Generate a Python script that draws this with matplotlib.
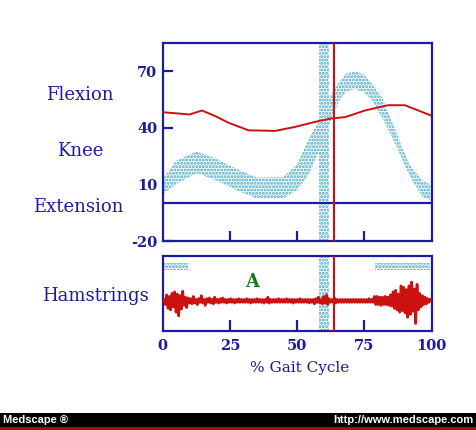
import matplotlib
matplotlib.use("Agg")
import matplotlib.pyplot as plt
import numpy as np
from matplotlib.patches import Rectangle

plt.rcParams['hatch.linewidth'] = 1.4

NAVY = '#1c1c9e'
CYAN = '#3aa6c4'
RED = '#cc1111'

# ---------------- data ----------------
mean_x = [0, 10, 14.6, 19.6, 24.5, 31.9, 41.8, 49.2, 57.9, 62.8, 67.8, 75.2, 83.8, 90, 99.5]
mean_knee = [48.2, 47.0, 49.1, 46.1, 42.6, 38.6, 38.3, 40.4, 43.5, 44.9, 45.6, 49.1, 51.9, 51.9, 46.6]

band_x = [0.5, 5.2, 12.6, 20, 27.4, 35, 44.7, 50, 54.5, 58.2, 61, 63.2, 66, 68.1, 71.5, 75, 78, 81.7, 86.6, 91.6, 96.5, 99.5]
band_upper = [13.8, 22.6, 27.4, 23.5, 18.2, 13.6, 13.8, 20.5, 34.8, 43.5, 52, 59.2, 65, 68.5, 70, 68, 63, 55.7, 38.3, 20.8, 12.1, 10]
band_lower = [5.1, 10.4, 15.9, 12.1, 6.9, 2.5, 2.5, 7.0, 15.5, 28, 38, 47, 55, 59, 60.6, 58.5, 54, 45, 31, 15, 3.5, 1.6]

zero_line = 0
swing_band = [58, 62]
toe_off = 63.5

emg = [
    0.02, -0.05, 0.08, -0.10, 0.06, -0.12, 0.10, -0.08, 0.12, -0.15, 0.09, -0.20, 0.07, -0.11, 0.13, -0.06, 0.05, -0.09, 0.04, -0.03,
    0.03, -0.04, 0.06, -0.03, 0.02, -0.05, 0.03, -0.02, 0.07, -0.03, 0.02, -0.06, 0.03, -0.02, 0.04, -0.03, 0.02, -0.04, 0.05, -0.02,
    0.02, -0.03, 0.03, -0.02, 0.04, -0.02, 0.02, -0.03, 0.02, -0.02, 0.03, -0.02, 0.02, -0.03, 0.02, -0.02, 0.03, -0.02, 0.02, -0.02,
    0.02, -0.02, 0.03, -0.02, 0.02, -0.03, 0.02, -0.02, 0.02, -0.02, 0.03, -0.02, 0.02, -0.02, 0.02, -0.03, 0.02, -0.02, 0.05, -0.03,
    0.02, -0.02, 0.02, -0.02, 0.02, -0.02, 0.03, -0.02, 0.02, -0.02, 0.02, -0.02, 0.03, -0.02, 0.02, -0.02, 0.02, -0.03, 0.02, -0.02,
    0.02, -0.02, 0.03, -0.02, 0.02, -0.02, 0.02, -0.02, 0.02, -0.03, 0.02, -0.02, 0.02, -0.04, 0.03, -0.02, 0.05, -0.03, 0.02, -0.04,
    0.06, -0.03, 0.08, -0.05, 0.03, -0.02, 0.02, -0.02, 0.04, -0.03, 0.02, -0.02, 0.02, -0.02, 0.02, -0.02, 0.02, -0.02, 0.02, -0.02,
    0.02, -0.02, 0.02, -0.02, 0.02, -0.02, 0.02, -0.02, 0.02, -0.02, 0.02, -0.02, 0.02, -0.02, 0.03, -0.02, 0.02, -0.02, 0.06, -0.05,
    0.06, -0.05, 0.05, -0.06, 0.05, -0.05, 0.06, -0.05, 0.05, -0.06, 0.08, -0.07, 0.12, -0.10, 0.14, -0.12, 0.09, -0.15, 0.20, -0.13,
    0.18, -0.16, 0.15, -0.22, 0.20, -0.18, 0.25, -0.14, 0.16, -0.30, 0.22, -0.12, 0.10, -0.08, 0.07, -0.05, 0.05, -0.04, 0.03, -0.02, 0.02,
]
emg_baseline = 0.40
emg_x = np.linspace(0.5, 99.5, len(emg))

activity_bands = [(0.5, 9.5), (79, 99.5)]
activity_y = (0.81, 0.90)

knee_yticks = [70, 40, 10, -20]
gait_xticks = [0, 25, 50, 75, 100]

# ---------------- figure ----------------
W, H = 476, 430
fig = plt.figure(figsize=(W / 100, H / 100), dpi=100)
fig.patch.set_facecolor('white')

def fx(px):
    return px / W

def fy(py):
    return 1 - py / H

ax1 = fig.add_axes([fx(162.7), fy(241), fx(431.7) - fx(162.7), fy(42.7) - fy(241)])
ax2 = fig.add_axes([fx(162.7), fy(331), fx(431.7) - fx(162.7), fy(255.7) - fy(331)])

tickfont = dict(family='DejaVu Serif', size=10.5, weight='bold')
HATCH = '.....'

for ax in (ax1, ax2):
    ax.set_xlim(0, 100)
    for s in ax.spines.values():
        s.set_color(NAVY)
        s.set_linewidth(1.6)
    ax.tick_params(direction='in', color=NAVY, width=1.6, length=7, labelcolor=NAVY)
    ax.axvspan(swing_band[0], swing_band[1], facecolor='white', edgecolor=CYAN,
               hatch=HATCH, linewidth=0, zorder=1)
    ax.axvline(toe_off, color=RED, linewidth=1.5, zorder=4)

# top: knee angle
ax1.set_ylim(-20, 85)
ax1.fill_between(band_x, band_lower, band_upper, facecolor='white', edgecolor=CYAN,
                 hatch=HATCH, linewidth=0, zorder=2)
ax1.plot(mean_x, mean_knee, color=RED, linewidth=1.4, zorder=3)
ax1.axhline(zero_line, color=NAVY, linewidth=1.6, zorder=3)
ax1.set_yticks(knee_yticks)
ax1.set_yticklabels([str(v) for v in knee_yticks], fontdict=tickfont)
ax1.set_xticks([25, 50, 75])
ax1.set_xticklabels([])
ax1.tick_params(axis='y', pad=4)

# bottom: hamstrings EMG
ax2.set_ylim(0, 1)
for a, b in activity_bands:
    ax2.fill_between([a, b], [activity_y[0]] * 2, [activity_y[1]] * 2, facecolor='white',
                     edgecolor=CYAN, hatch=HATCH, linewidth=0, zorder=2)
ax2.plot(emg_x, emg_baseline + np.array(emg), color=RED, linewidth=1.9, zorder=3)
ax2.set_yticks([])
ax2.set_xticks(gait_xticks)
ax2.set_xticklabels([str(v) for v in gait_xticks], fontdict=tickfont)
ax2.tick_params(axis='x', length=8, pad=6)
for t in ax2.xaxis.get_major_ticks():
    if t.get_loc() in (0, 100):
        t.tick1line.set_visible(False)
ax2.text(33.4, 0.65, 'A', color='#1a7a1a', fontsize=13, fontweight='bold',
         family='DejaVu Serif', ha='center', va='center')

# labels
lab = dict(family='DejaVu Serif', size=13, color=NAVY, ha='center', va='center')
fig.text(fx(80), fy(95), 'Flexion', **lab)
fig.text(fx(80), fy(151), 'Knee', **lab)
fig.text(fx(78), fy(207), 'Extension', **lab)
fig.text(fx(95), fy(296), 'Hamstrings', **lab)
fig.text(fx(300), fy(368), '% Gait Cycle', family='DejaVu Serif', size=11, color=NAVY,
         ha='center', va='center')

# footer bar
fig.patches.append(Rectangle((0, fy(426.7)), 1, fy(412.7) - fy(426.7), transform=fig.transFigure,
                             facecolor='black', edgecolor='none'))
fig.patches.append(Rectangle((0, 0), 1, fy(426.7), transform=fig.transFigure,
                             facecolor='#a01010', edgecolor='none'))
fig.text(fx(3), fy(419.7), 'Medscape ®', color='white', fontsize=8, fontweight='bold',
         family='Liberation Sans', ha='left', va='center')
fig.text(fx(474), fy(419.7), 'http://www.medscape.com', color='white', fontsize=8,
         fontweight='bold', family='Liberation Sans', ha='right', va='center')

fig.savefig('out.png', dpi=100, facecolor='white')
